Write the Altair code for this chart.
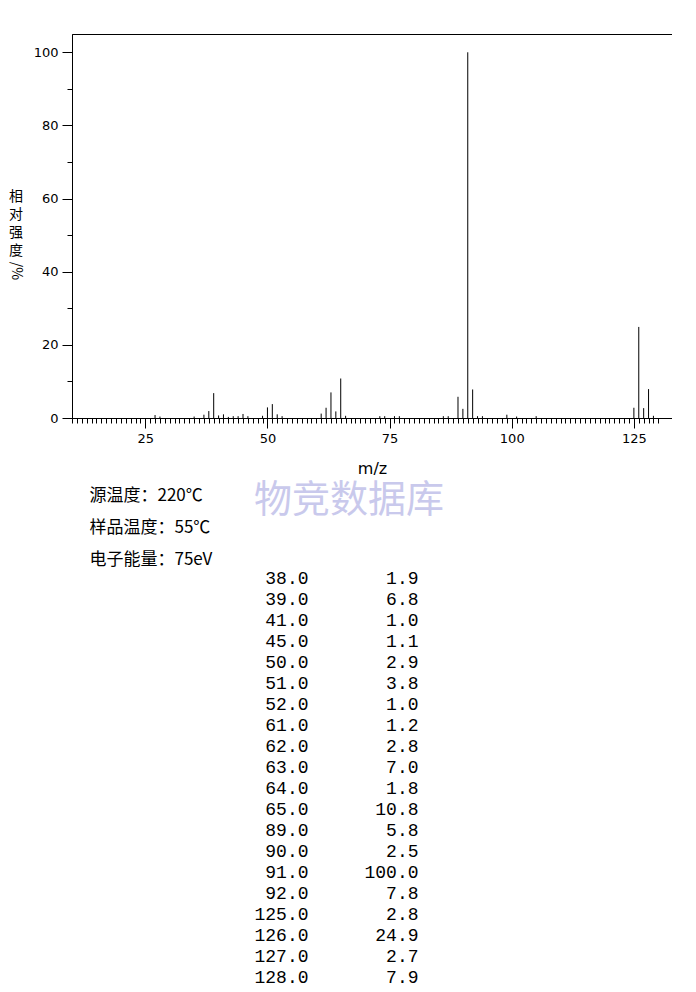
import altair as alt
import pandas as pd

# spectrum peaks (m/z, relative intensity %)
mz = [27, 28, 35, 37, 38, 39, 40, 41, 42, 43, 44, 45, 46, 49, 50, 51, 52, 53,
      61, 62, 63, 64, 65, 66, 73, 74, 76, 77, 86, 87, 89, 90, 91, 92, 93, 94,
      99, 101, 105, 125, 126, 127, 128, 129]
intensity = [0.8, 0.4, 0.4, 0.9, 1.9, 6.8, 0.7, 1.0, 0.3, 0.5, 0.5, 1.1, 0.5, 0.6, 2.9, 3.8, 1.0, 0.5,
             1.2, 2.8, 7.0, 1.8, 10.8, 0.6, 0.5, 0.5, 0.5, 0.5, 0.5, 0.5, 5.8, 2.5, 100.0, 7.8, 0.5, 0.5,
             0.9, 0.4, 0.5, 2.8, 24.9, 2.7, 7.9, 0.6]

# listed peak table
table_mz = ["38.0", "39.0", "41.0", "45.0", "50.0", "51.0", "52.0", "61.0", "62.0", "63.0",
            "64.0", "65.0", "89.0", "90.0", "91.0", "92.0", "125.0", "126.0", "127.0", "128.0"]
table_int = ["1.9", "6.8", "1.0", "1.1", "2.9", "3.8", "1.0", "1.2", "2.8", "7.0",
             "1.8", "10.8", "5.8", "2.5", "100.0", "7.8", "2.8", "24.9", "2.7", "7.9"]

info_lines = ["源温度：220℃", "样品温度：55℃", "电子能量：75eV"]
watermark = ["物竞数据库"]
y_title_cjk = ["相", "对", "强", "度"]
y_title_unit = ["/%"]

x_ticks = list(range(10, 131))
y_ticks = list(range(0, 101, 10))

spec_df = pd.DataFrame({"mz": mz, "intensity": intensity})
table_df = pd.DataFrame({"row": list(range(len(table_mz))), "m": table_mz, "i": table_int})
info_df = pd.DataFrame({"row": list(range(len(info_lines))), "t": info_lines})
wm_df = pd.DataFrame({"t": watermark})
unit_df = pd.DataFrame({"t": y_title_unit})

x_axis = alt.Axis(
    values=x_ticks,
    labelExpr="datum.value % 25 === 0 ? datum.label : ''",
    labelOverlap=False,
    tickSize={"condition": {"test": "datum.value % 25 === 0", "value": 10}, "value": 5},
    labelPadding=4,
    title="m/z",
    titleFont="DejaVu Sans",
    titleFontSize=16,
    titleFontWeight="normal",
    titleBaseline="alphabetic",
    titleY=55,
    grid=False,
)
y_axis = alt.Axis(
    values=y_ticks,
    labelExpr="datum.value % 20 === 0 ? datum.label : ''",
    labelOverlap=False,
    tickSize={"condition": {"test": "datum.value % 20 === 0", "value": 10}, "value": 5},
    labelPadding=4,
    title=y_title_cjk,
    titleFont="Noto Sans CJK SC",
    titleFontSize=14,
    titleFontWeight="normal",
    titleAngle=0,
    titleAlign="center",
    titleBaseline="top",
    titleLineHeight=18,
    titleX=-56.5,
    titleY=155,
    grid=False,
)

bars = alt.Chart(spec_df).mark_rule(color="black", strokeWidth=1).encode(
    x=alt.X("mz:Q", scale=alt.Scale(domain=[10, 132.8], nice=False, zero=False), axis=x_axis),
    y=alt.Y("intensity:Q", scale=alt.Scale(domain=[0, 105], nice=False), axis=y_axis),
    y2=alt.datum(0),
)

unit = alt.Chart(unit_df).mark_text(
    angle=90, align="center", baseline="middle", font="Noto Sans CJK SC", fontSize=14, color="black"
).encode(
    x=alt.value(-56.5),
    y=alt.value(237),
    text="t:N",
)

info = alt.Chart(info_df).mark_text(
    align="left", baseline="middle", font="Noto Sans CJK SC", fontSize=17, color="black"
).encode(
    x=alt.value(17.5),
    y=alt.Y("row:Q", scale=alt.Scale(domain=[0, 2], range=[462, 526]), axis=None),
    text="t:N",
)

col_m = alt.Chart(table_df).mark_text(
    align="right", baseline="middle", font="Liberation Mono", fontSize=18, color="black"
).encode(
    x=alt.value(236.5),
    y=alt.Y("row:Q", scale=alt.Scale(domain=[0, 19], range=[545, 944]), axis=None),
    text="m:N",
)
col_i = alt.Chart(table_df).mark_text(
    align="right", baseline="middle", font="Liberation Mono", fontSize=18, color="black"
).encode(
    x=alt.value(346.5),
    y=alt.Y("row:Q", scale=alt.Scale(domain=[0, 19], range=[545, 944]), axis=None),
    text="i:N",
)

wm = alt.Chart(wm_df).mark_text(
    align="center", baseline="middle", font="Noto Sans CJK SC", fontSize=38, color="#c9c9ec"
).encode(
    x=alt.value(277),
    y=alt.value(467),
    text="t:N",
)

chart = alt.layer(bars, unit, wm, info, col_m, col_i).resolve_scale(y="independent").properties(
    width=600,
    height=384,
    padding={"left": 0, "top": 26, "right": 0, "bottom": 0},
    background="white",
).configure_view(
    stroke="black", strokeWidth=1
).configure_axis(
    domainColor="black", tickColor="black", labelColor="black", titleColor="black",
    labelFont="DejaVu Sans", labelFontSize=13, domainWidth=1, tickWidth=1,
)

chart.save("out.html", embed_options={"renderer": "svg", "actions": False})
